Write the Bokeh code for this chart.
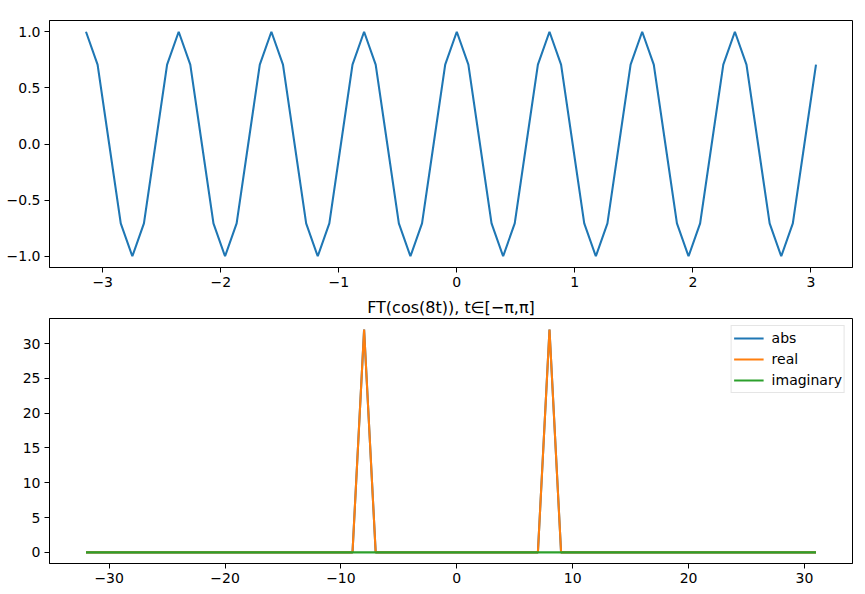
from bokeh.plotting import figure
from bokeh.layouts import column
from bokeh.models import FixedTicker, Range1d, Legend, LegendItem
from bokeh.embed import file_html
from bokeh.resources import INLINE

# ---- data: top panel, cos(8t) sampled on [-pi, pi) ----
t_vals = [-3.1416, -3.0434, -2.9452, -2.8471, -2.7489, -2.6507, -2.5525, -2.4544,
          -2.3562, -2.2580, -2.1598, -2.0617, -1.9635, -1.8653, -1.7671, -1.6690,
          -1.5708, -1.4726, -1.3744, -1.2763, -1.1781, -1.0799, -0.9817, -0.8836,
          -0.7854, -0.6872, -0.5890, -0.4909, -0.3927, -0.2945, -0.1963, -0.0982,
          0.0000, 0.0982, 0.1963, 0.2945, 0.3927, 0.4909, 0.5890, 0.6872,
          0.7854, 0.8836, 0.9817, 1.0799, 1.1781, 1.2763, 1.3744, 1.4726,
          1.5708, 1.6690, 1.7671, 1.8653, 1.9635, 2.0617, 2.1598, 2.2580,
          2.3562, 2.4544, 2.5525, 2.6507, 2.7489, 2.8471, 2.9452, 3.0434]
cos_vals = [1.0, 0.7071, 0.0, -0.7071, -1.0, -0.7071, 0.0, 0.7071,
            1.0, 0.7071, 0.0, -0.7071, -1.0, -0.7071, 0.0, 0.7071,
            1.0, 0.7071, 0.0, -0.7071, -1.0, -0.7071, 0.0, 0.7071,
            1.0, 0.7071, 0.0, -0.7071, -1.0, -0.7071, 0.0, 0.7071,
            1.0, 0.7071, 0.0, -0.7071, -1.0, -0.7071, 0.0, 0.7071,
            1.0, 0.7071, 0.0, -0.7071, -1.0, -0.7071, 0.0, 0.7071,
            1.0, 0.7071, 0.0, -0.7071, -1.0, -0.7071, 0.0, 0.7071,
            1.0, 0.7071, 0.0, -0.7071, -1.0, -0.7071, 0.0, 0.7071]

# ---- data: bottom panel, Fourier transform ----
freq = [-32, -31, -30, -29, -28, -27, -26, -25, -24, -23, -22, -21, -20, -19, -18, -17,
        -16, -15, -14, -13, -12, -11, -10, -9, -8, -7, -6, -5, -4, -3, -2, -1,
        0, 1, 2, 3, 4, 5, 6, 7, 8, 9, 10, 11, 12, 13, 14, 15,
        16, 17, 18, 19, 20, 21, 22, 23, 24, 25, 26, 27, 28, 29, 30, 31]
ft_abs = [0, 0, 0, 0, 0, 0, 0, 0, 0, 0, 0, 0, 0, 0, 0, 0,
          0, 0, 0, 0, 0, 0, 0, 0, 32, 0, 0, 0, 0, 0, 0, 0,
          0, 0, 0, 0, 0, 0, 0, 0, 32, 0, 0, 0, 0, 0, 0, 0,
          0, 0, 0, 0, 0, 0, 0, 0, 0, 0, 0, 0, 0, 0, 0, 0]
ft_real = [0, 0, 0, 0, 0, 0, 0, 0, 0, 0, 0, 0, 0, 0, 0, 0,
           0, 0, 0, 0, 0, 0, 0, 0, 32, 0, 0, 0, 0, 0, 0, 0,
           0, 0, 0, 0, 0, 0, 0, 0, 32, 0, 0, 0, 0, 0, 0, 0,
           0, 0, 0, 0, 0, 0, 0, 0, 0, 0, 0, 0, 0, 0, 0, 0]
ft_imag = [0, 0, 0, 0, 0, 0, 0, 0, 0, 0, 0, 0, 0, 0, 0, 0,
           0, 0, 0, 0, 0, 0, 0, 0, 0, 0, 0, 0, 0, 0, 0, 0,
           0, 0, 0, 0, 0, 0, 0, 0, 0, 0, 0, 0, 0, 0, 0, 0,
           0, 0, 0, 0, 0, 0, 0, 0, 0, 0, 0, 0, 0, 0, 0, 0]

top_xticks = [-3, -2, -1, 0, 1, 2, 3]
top_yticks = [-1.0, -0.5, 0.0, 0.5, 1.0]
bot_xticks = [-30, -20, -10, 0, 10, 20, 30]
bot_yticks = [0, 5, 10, 15, 20, 25, 30]
title_text = "FT(cos(8t)), t\u2208[\u2212\u03c0,\u03c0]"

C_BLUE, C_ORANGE, C_GREEN = "#1f77b4", "#ff7f0e", "#2ca02c"
FONT = "DejaVu Sans"
LW = 2.08


def fmt(v, decimals):
    s = f"{abs(v):.{decimals}f}"
    return ("\u2212" + s) if v < 0 else s


def style(p, xt, yt, xdec, ydec):
    p.xgrid.visible = False
    p.ygrid.visible = False
    p.outline_line_color = "black"
    p.outline_line_width = 1
    p.outline_line_alpha = 1
    p.background_fill_color = "white"
    p.border_fill_color = "white"
    for ax, ticks, dec in ((p.xaxis[0], xt, xdec), (p.yaxis[0], yt, ydec)):
        ax.ticker = FixedTicker(ticks=ticks)
        ax.major_label_overrides = {t: fmt(t, dec) for t in ticks}
        ax.axis_line_color = "black"
        ax.major_tick_line_color = "black"
        ax.major_tick_out = 5
        ax.major_tick_in = 0
        ax.minor_tick_line_color = None
        ax.major_label_text_font = FONT
        ax.major_label_text_font_size = "14px"
        ax.major_label_text_color = "black"
        ax.major_label_standoff = 4


p1 = figure(width=857, height=293,
            x_range=Range1d(-3.4508, 3.3527), y_range=Range1d(-1.1, 1.1),
            output_backend="svg", toolbar_location=None,
            min_border_left=49, min_border_right=5,
            min_border_top=20, min_border_bottom=26)
p1.line(t_vals, cos_vals, line_color=C_BLUE, line_width=LW)
style(p1, top_xticks, top_yticks, 0, 1)

p2 = figure(width=857, height=292,
            x_range=Range1d(-35.15, 34.15), y_range=Range1d(-1.6, 33.6),
            output_backend="svg", toolbar_location=None,
            min_border_left=49, min_border_right=5,
            min_border_top=23, min_border_bottom=22)
r_abs = p2.line(freq, ft_abs, line_color=C_BLUE, line_width=LW)
r_real = p2.line(freq, ft_real, line_color=C_ORANGE, line_width=LW)
r_imag = p2.line(freq, ft_imag, line_color=C_GREEN, line_width=LW)
style(p2, bot_xticks, bot_yticks, 0, 0)

p2.title.text = title_text
p2.title.align = "center"
p2.title.text_font = FONT
p2.title.text_font_size = "16px"
p2.title.text_font_style = "normal"
p2.title.text_color = "black"
p2.title.standoff = 4

legend = Legend(items=[LegendItem(label="abs", renderers=[r_abs]),
                       LegendItem(label="real", renderers=[r_real]),
                       LegendItem(label="imaginary", renderers=[r_imag])],
                location="top_right")
legend.border_line_color = "#cccccc"
legend.border_line_width = 1
legend.background_fill_color = "white"
legend.background_fill_alpha = 0.8
legend.label_text_font = FONT
legend.label_text_font_size = "14px"
legend.label_text_color = "black"
legend.glyph_width = 30
legend.glyph_height = 20
legend.label_height = 20
legend.label_standoff = 8
legend.spacing = 1
legend.padding = 2
legend.margin = 7
p2.add_layout(legend)

layout = column(p1, p2, spacing=0)
open("out.html", "w").write(file_html(layout, INLINE))
